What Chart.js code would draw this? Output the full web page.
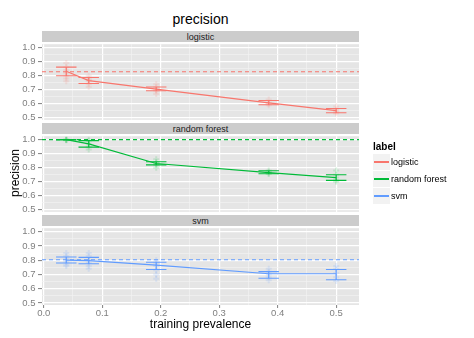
<!DOCTYPE html>
<html>
<head>
<meta charset="utf-8">
<script src="https://cdn.jsdelivr.net/npm/chart.js@4"></script>
<style>
  body { margin: 0; width: 474px; height: 338px; background: #fff; position: relative; overflow: hidden;
         font-family: "Liberation Sans", Arial, sans-serif; }
  canvas { position: absolute; left: 0; }
  .strip { position: absolute; left: 42px; width: 317px; height: 11.5px; background: #cccccc;
           font-size: 9px; color: #1a1a1a; text-align: center; line-height: 12px; }
  .txt { position: absolute; white-space: nowrap; }
  .key { position: absolute; left: 373px; width: 17px; height: 16px; background: #f2f2f2; }
  .key div { position: absolute; left: 1px; right: 1px; top: 7px; height: 2px; }
</style>
</head>
<body>
<canvas id="c0" width="474" height="92" style="top:36px"></canvas>
<canvas id="c1" width="474" height="92" style="top:128px"></canvas>
<canvas id="c2" width="474" height="100" style="top:220px"></canvas>

<div class="txt" style="left:0;width:401px;text-align:center;top:11px;font-size:14px;color:#000">precision</div>
<div class="strip" style="top:30.5px">logistic</div>
<div class="strip" style="top:122.5px">random forest</div>
<div class="strip" style="top:214.5px">svm</div>
<div class="txt" style="left:0;width:401px;text-align:center;top:317px;font-size:12px;color:#000">training prevalence</div>
<div class="txt" style="left:15px;top:173px;font-size:12px;color:#000;transform:translate(-50%,-50%) rotate(-90deg)">precision</div>

<div class="txt" style="left:373px;top:141px;font-size:10px;font-weight:bold;color:#000">label</div>
<div class="key" style="top:154px"><div style="background:#F8766D"></div></div>
<div class="key" style="top:171px"><div style="background:#00BA38"></div></div>
<div class="key" style="top:188px"><div style="background:#619CFF"></div></div>
<div class="txt" style="left:391px;top:157px;font-size:9px;color:#000">logistic</div>
<div class="txt" style="left:391px;top:174px;font-size:9px;color:#000">random forest</div>
<div class="txt" style="left:391px;top:191px;font-size:9px;color:#000">svm</div>

<script>
// training prevalence for each run group
const prevalence = [0.0385, 0.0769, 0.1923, 0.3846, 0.5];
const models = ['logistic', 'random forest', 'svm'];
const colors = ['#F8766D', '#00BA38', '#619CFF'];

// mean precision and error bar ends, per model
const meanLogistic = [0.832, 0.765, 0.705, 0.607, 0.552];
const lowLogistic  = [0.800, 0.745, 0.693, 0.593, 0.536];
const highLogistic = [0.861, 0.787, 0.720, 0.623, 0.567];

const meanForest = [1.000, 0.970, 0.830, 0.765, 0.730];
const lowForest  = [0.997, 0.947, 0.820, 0.757, 0.710];
const highForest = [1.000, 0.993, 0.842, 0.778, 0.750];

const meanSvm = [0.800, 0.797, 0.765, 0.705, 0.705];
const lowSvm  = [0.781, 0.775, 0.735, 0.674, 0.663];
const highSvm = [0.823, 0.820, 0.786, 0.720, 0.735];

// dashed reference line
const baseline = [0.828, 1.0, 0.803];

// individual runs (faint marks)
const runsLogistic = [
  [0.89, 0.86, 0.84, 0.82, 0.80, 0.78, 0.76],
  [0.80, 0.78, 0.77, 0.76, 0.74, 0.72],
  [0.74, 0.72, 0.70, 0.69, 0.67],
  [0.63, 0.61, 0.60, 0.59],
  [0.58, 0.56, 0.55, 0.54, 0.53]
];
const runsForest = [
  [1.0, 1.0, 1.0, 0.995],
  [1.0, 0.99, 0.97, 0.95, 0.93],
  [0.86, 0.84, 0.83, 0.82, 0.80],
  [0.78, 0.77, 0.76, 0.755],
  [0.78, 0.75, 0.73, 0.71, 0.70]
];
const runsSvm = [
  [0.85, 0.83, 0.81, 0.79, 0.77, 0.76],
  [0.85, 0.83, 0.80, 0.78, 0.76, 0.74],
  [0.80, 0.78, 0.76, 0.73, 0.70, 0.67],
  [0.74, 0.72, 0.70, 0.68, 0.66],
  [0.76, 0.74, 0.71, 0.68, 0.655]
];

const xTicks = [0, 0.1, 0.2, 0.3, 0.4, 0.5];
const xMinor = [0.05, 0.15, 0.25, 0.35, 0.45];
const yTicks = [0.5, 0.6, 0.7, 0.8, 0.9, 1.0];
const yMinor = [0.55, 0.65, 0.75, 0.85, 0.95];

const means = [meanLogistic, meanForest, meanSvm];
const lows = [lowLogistic, lowForest, lowSvm];
const highs = [highLogistic, highForest, highSvm];
const runs = [runsLogistic, runsForest, runsSvm];

const capHalf = 0.0175;

function faint(hex, a) {
  const n = parseInt(hex.slice(1), 16);
  return `rgba(${n >> 16},${(n >> 8) & 255},${n & 255},${a})`;
}

function panelPlugin(i) {
  return {
    id: 'panel' + i,
    beforeDraw(chart) {
      const { ctx, chartArea: a } = chart;
      ctx.save();
      ctx.fillStyle = '#e5e5e5';
      ctx.fillRect(a.left, a.top, a.right - a.left, a.bottom - a.top);
      ctx.restore();
    },
    afterDatasetsDraw(chart) {
      const { ctx, chartArea: a } = chart;
      const xs = chart.scales.x, ys = chart.scales.y;
      ctx.save();
      ctx.strokeStyle = colors[i];
      ctx.lineWidth = 1.1;
      prevalence.forEach((x, k) => {
        const px = xs.getPixelForValue(x);
        const pl = xs.getPixelForValue(x - capHalf);
        const pr = xs.getPixelForValue(x + capHalf);
        const yl = ys.getPixelForValue(lows[i][k]);
        const yh = ys.getPixelForValue(highs[i][k]);
        ctx.beginPath();
        ctx.moveTo(px, yl); ctx.lineTo(px, yh);
        ctx.moveTo(pl, yl); ctx.lineTo(pr, yl);
        ctx.moveTo(pl, yh); ctx.lineTo(pr, yh);
        ctx.stroke();
      });
      const yb = ys.getPixelForValue(baseline[i]);
      ctx.lineWidth = 1.1;
      ctx.setLineDash([4, 3]);
      ctx.beginPath();
      ctx.moveTo(a.left, yb);
      ctx.lineTo(a.right, yb);
      ctx.stroke();
      ctx.restore();
    }
  };
}

function makePanel(i) {
  const showX = i === 2;
  const runPoints = [];
  prevalence.forEach((x, k) => runs[i][k].forEach(v => runPoints.push({ x: x, y: v })));

  new Chart(document.getElementById('c' + i), {
    type: 'scatter',
    data: {
      datasets: [
        {
          type: 'line',
          data: prevalence.map((x, k) => ({ x: x, y: means[i][k] })),
          borderColor: colors[i],
          borderWidth: 1.2,
          pointRadius: 0,
          fill: false,
          order: 1
        },
        {
          data: runPoints,
          pointStyle: 'cross',
          pointRadius: 3,
          borderWidth: 2,
          borderColor: faint(colors[i], 0.15),
          backgroundColor: faint(colors[i], 0.15),
          order: 2
        }
      ]
    },
    options: {
      responsive: false,
      animation: false,
      devicePixelRatio: 1,
      events: [],
      layout: { padding: { top: 7.5, right: 115, bottom: showX ? 1 : 7, left: 0 } },
      plugins: { legend: { display: false }, tooltip: { enabled: false } },
      scales: {
        x: {
          type: 'linear',
          min: -0.003,
          max: 0.539,
          afterBuildTicks: s => { s.ticks = xTicks.concat(xMinor).map(v => ({ value: v })); },
          afterFit: s => { s.height = showX ? 14 : 0; },
          border: { display: false },
          grid: {
            color: c => xTicks.includes(c.tick.value) ? '#ffffff' : '#f2f2f2',
            lineWidth: c => xTicks.includes(c.tick.value) ? 1.2 : 0.7,
            drawTicks: showX,
            tickLength: 3,
            tickColor: c => xTicks.includes(c.tick.value) ? '#7f7f7f' : 'rgba(0,0,0,0)',
            tickWidth: 1
          },
          ticks: {
            display: showX,
            autoSkip: false,
            maxRotation: 0,
            padding: 0,
            color: '#7f7f7f',
            font: { family: '"Liberation Sans", Arial, sans-serif', size: 9.5 },
            callback: v => xTicks.includes(v) ? v.toFixed(1) : ''
          }
        },
        y: {
          min: 0.486,
          max: 1.0245,
          afterBuildTicks: s => { s.ticks = yTicks.concat(yMinor).map(v => ({ value: v })); },
          afterFit: s => { s.width = 42; },
          border: { display: false },
          grid: {
            color: c => yTicks.includes(c.tick.value) ? '#ffffff' : '#f2f2f2',
            lineWidth: c => yTicks.includes(c.tick.value) ? 1.2 : 0.7,
            drawTicks: true,
            tickLength: 4,
            tickColor: c => yTicks.includes(c.tick.value) ? '#7f7f7f' : 'rgba(0,0,0,0)',
            tickWidth: 1
          },
          ticks: {
            autoSkip: false,
            padding: 2.5,
            color: '#7f7f7f',
            font: { family: '"Liberation Sans", Arial, sans-serif', size: 9.5 },
            callback: v => yTicks.includes(v) ? v.toFixed(1) : ''
          }
        }
      }
    },
    plugins: [panelPlugin(i)]
  });
}

models.forEach((m, i) => makePanel(i));
</script>
</body>
</html>
